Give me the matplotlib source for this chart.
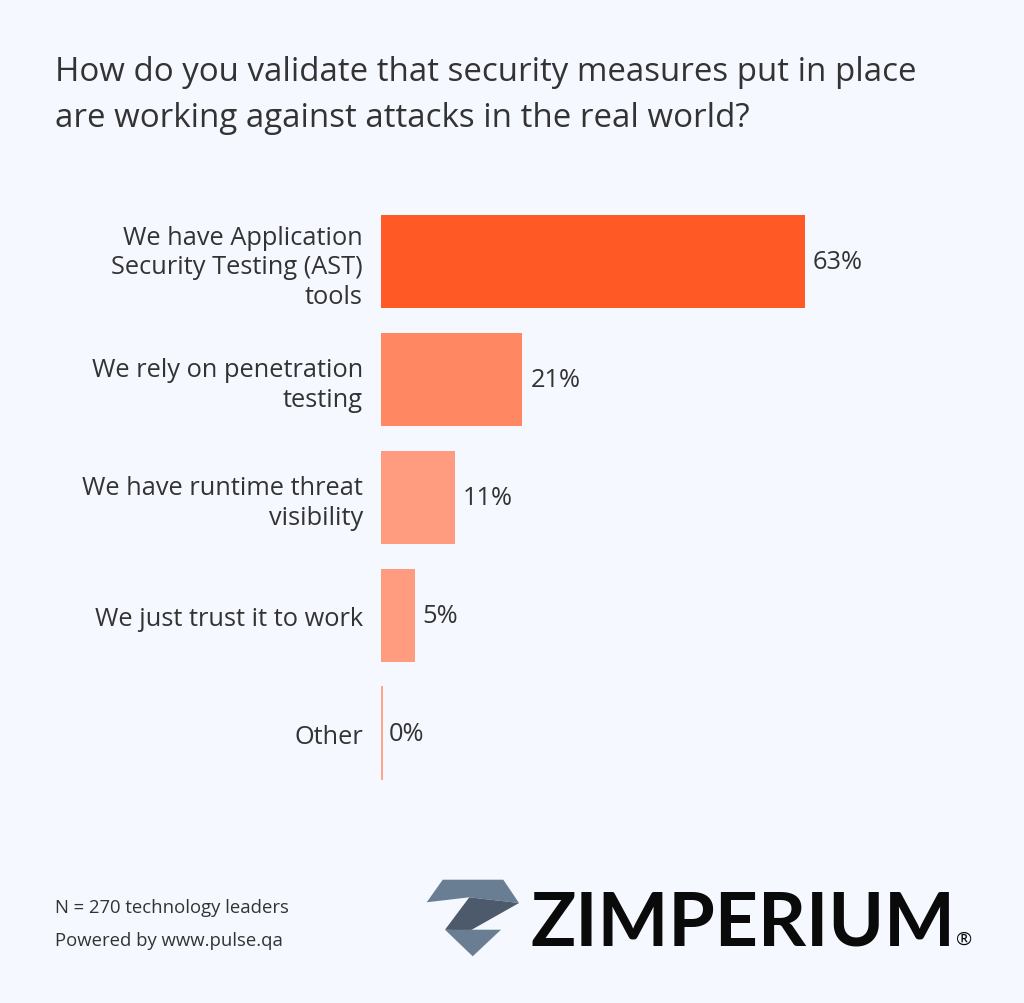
import matplotlib
matplotlib.use("Agg")
import matplotlib.pyplot as plt
from matplotlib.patches import Polygon

plt.rcParams['font.family'] = ['Open Sans', 'DejaVu Sans']

# data
categories = [
    "We have Application\nSecurity Testing (AST)\ntools",
    "We rely on penetration\ntesting",
    "We have runtime threat\nvisibility",
    "We just trust it to work",
    "Other",
]
values = [63, 21, 11, 5, 0]
value_labels = ["63%", "21%", "11%", "5%", "0%"]
bar_colors = ["#FF5A26", "#FF8762", "#FF9B7E", "#FF9B7E", "#FFA58C"]

title_lines = ["How do you validate that security measures put in place",
               "are working against attacks in the real world?"]
footer = ["N = 270 technology leaders", "Powered by www.pulse.qa"]

BG = "#F5F8FE"
TXT = "#333333"
W, H = 1024, 1004

fig = plt.figure(figsize=(W / 100, H / 100), dpi=100, facecolor=BG)


def fx(px):
    return px / W


def fy(py):
    return 1 - py / H


ax = fig.add_axes([fx(381), fy(793), fx(1000) - fx(381), (793 - 203.5) / H])
ax.set_facecolor(BG)
ypos = list(range(len(categories)))
ax.barh(ypos, values, height=0.79, color=bar_colors)
# 0% still shows as a thin line
ax.barh([4], [0.3], height=0.79, color=bar_colors[4])
ax.set_xlim(0, 619 / 6.73)
ax.set_ylim(4.5, -0.5)
for sp in ax.spines.values():
    sp.set_visible(False)
ax.set_xticks([])
ax.set_yticks(ypos)
ax.set_yticklabels(categories, fontsize=18.3, color=TXT, linespacing=1.24,
                   ha="right", multialignment="right")
ax.tick_params(axis="y", length=0, pad=13)
for y, v, lab in zip(ypos, values, value_labels):
    ax.text(v + 1.2, y, lab, va="center", ha="left", fontsize=18.3, color=TXT)

fig.text(fx(55), fy(81), title_lines[0], fontsize=23.8, color=TXT, va="baseline")
fig.text(fx(55), fy(127), title_lines[1], fontsize=23.8, color=TXT, va="baseline")
fig.text(fx(55), fy(913), footer[0], fontsize=13.3, color=TXT, va="baseline")
fig.text(fx(55), fy(946), footer[1], fontsize=13.3, color=TXT, va="baseline")

# logo emblem
light = "#6A7E93"
dark = "#4C5A6C"
shapes = [
    ([(426.7, 903.3), (442.7, 880.7), (503.3, 880.7), (519, 904), (469.3, 898.3)], light),
    ([(469.3, 898.3), (519, 904), (470, 931.7), (445, 930.7)], dark),
    ([(445, 930.7), (501, 930.7), (472.7, 957.3)], light),
]
for pts, col in shapes:
    fig.patches.append(Polygon([(fx(a), fy(b)) for a, b in pts], closed=True,
                               facecolor=col, edgecolor="none",
                               transform=fig.transFigure, figure=fig))
fig.text(fx(530), fy(945), "ZIMPERIUM", fontsize=54, fontweight="bold",
         family=["Lato", "DejaVu Sans"], color="#0A0A0A", va="baseline", ha="left")
fig.text(fx(956), fy(945), "®", fontsize=14, color="#0A0A0A", va="baseline")

fig.savefig("out.png", dpi=100, facecolor=BG)
